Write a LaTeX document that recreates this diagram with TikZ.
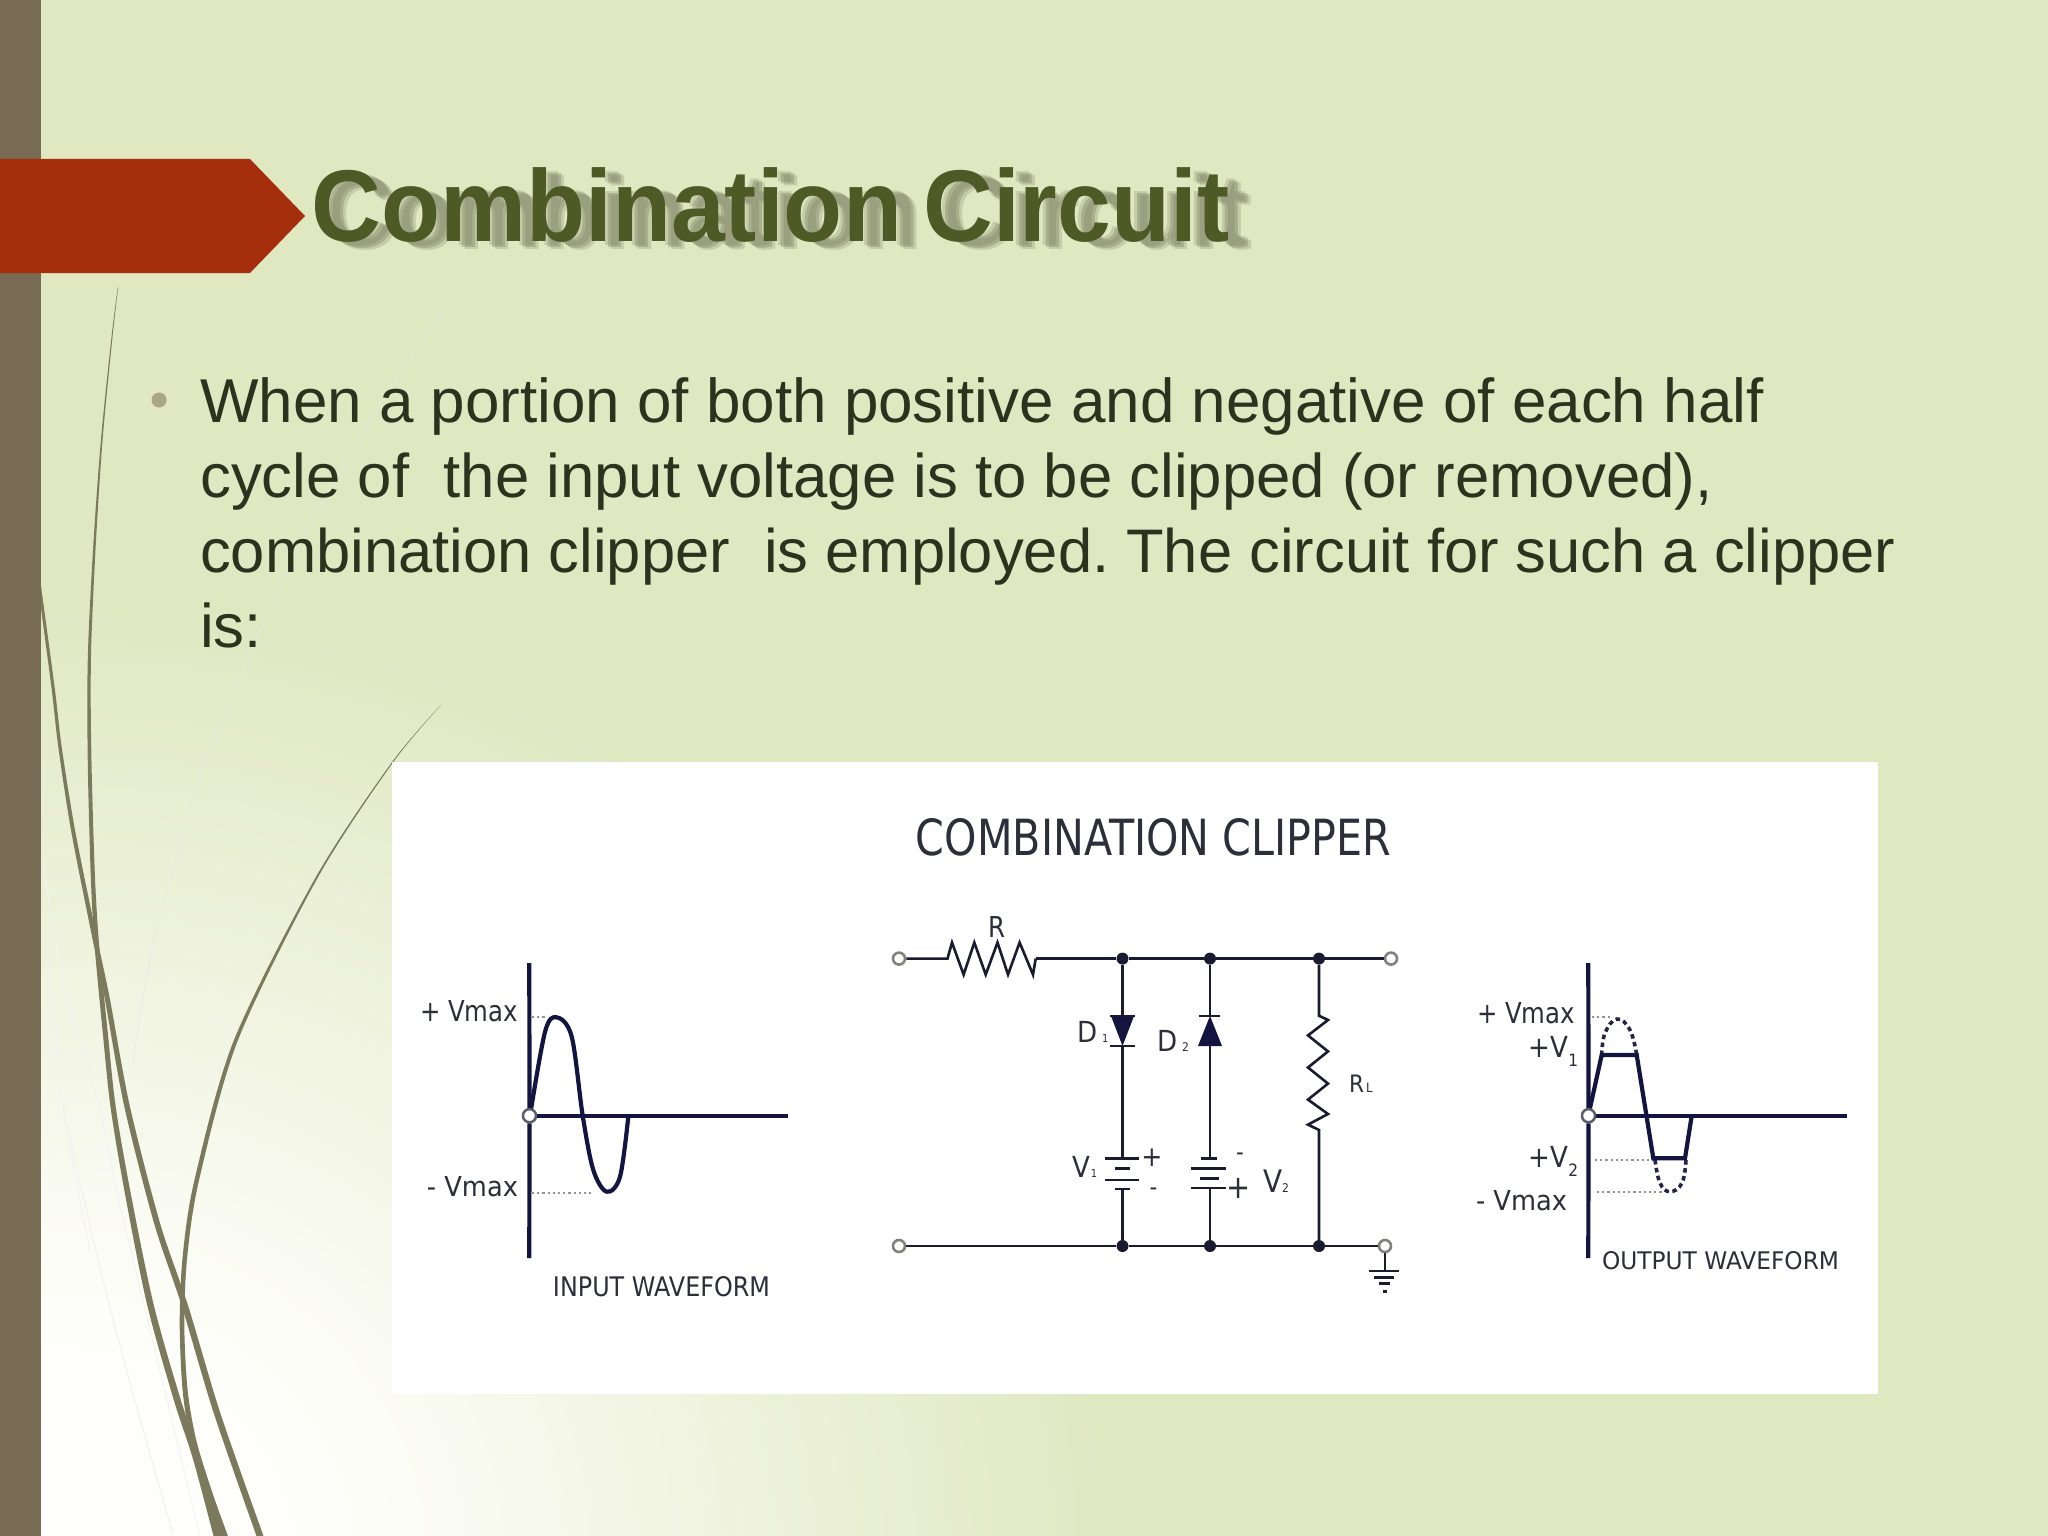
\documentclass[tikz,border=0pt]{standalone}
\usepackage{fontspec}
\usepackage{graphicx}
\usetikzlibrary{calc}
\setmainfont{Liberation Sans}
\newfontfamily\dv[FakeStretch=0.9]{DejaVu Sans}
\definecolor{bgc}{RGB}{224,232,194}
\definecolor{barc}{RGB}{120,107,84}
\definecolor{arrc}{RGB}{165,47,13}
\definecolor{titc}{RGB}{78,90,38}
\definecolor{shc}{RGB}{105,108,80}
\definecolor{bodyc}{RGB}{44,50,30}
\definecolor{bulc}{RGB}{170,166,132}
\definecolor{stemc}{RGB}{124,122,92}
\definecolor{wirec}{RGB}{26,26,48}
\definecolor{wavec}{RGB}{20,20,64}
\definecolor{labc}{RGB}{44,46,58}
\definecolor{termc}{RGB}{130,130,125}
\definecolor{palew}{RGB}{253,253,248}
\pgfdeclareradialshading{bgrad}{\pgfpoint{0bp}{0bp}}{color(0bp)=(white);color(7.5bp)=(palew);color(25bp)=(bgc);color(50bp)=(bgc)}
\tikzset{
  stem/.style={fill=stemc,draw=none},
  faint/.style={draw=#1,line width=1pt},
  wire/.style={draw=wirec,line width=2.6pt},
  bat/.style={draw=wirec,line width=2.6pt},
  wave/.style={draw=wavec,line width=4.2pt,line cap=round,line join=round},
  axisl/.style={draw=wavec,line width=4.2pt},
  dots/.style={draw=gray!85,line width=2.4pt,dash pattern=on 2.2pt off 3pt},
  dashw/.style={draw=wavec!85!gray,line width=3.6pt,dash pattern=on 4.5pt off 3.5pt},
  term/.style={circle,draw=termc,fill=white,line width=2.6pt,minimum size=12pt,inner sep=0pt},
  origin/.style={circle,draw=gray!70!wavec,fill=white,line width=2.4pt,minimum size=13pt,inner sep=0pt},
  junc/.style={circle,fill=wirec,minimum size=12pt,inner sep=0pt},
  lbl/.style={inner sep=0pt,outer sep=0pt,text=labc,font=\dv},
  bodyl/.style={anchor=base west,inner sep=0pt,text=bodyc,font=\fontsize{#1}{#1}\selectfont\frenchspacing},
  titl/.style={anchor=base west,inner sep=0pt,font=\fontsize{102}{102}\selectfont\bfseries},
}
\newcommand{\lab}[6]{\node[lbl] (#1) at ({(#2+#4)/2},{(#3+#5)/2}) {\resizebox{\dimexpr#4pt-#2pt\relax}{\dimexpr#5pt-#3pt\relax}{#6}};}
\newcommand{\titletxt}{Combination\kern-6pt\ Circuit}
\begin{document}
\begin{tikzpicture}[x=1pt,y=-1pt]
\useasboundingbox (0,0) rectangle (2048,1536);
% background
\fill[bgc] (0,0) rectangle (2048,1536);
\begin{scope}
\clip (0,0) rectangle (2048,1536);
\shade[shading=bgrad] (60,1560) ellipse [x radius=1050,y radius=950];
\end{scope}
% faint stems
\draw[faint=black!9,opacity=0.7] plot[smooth] coordinates {(442,313) (397,377) (347,460) (317,513) (280,587) (250,653) (240,680) (203,767) (170,880) (150,957) (133,1063)};
\draw[faint=black!6] plot[smooth] coordinates {(63,1106) (97,1256) (130,1383) (173,1534)};
\draw[faint=black!5] plot[smooth] coordinates {(43,863) (63,980) (87,1063) (100,1110) (120,1206) (150,1330) (200,1536)};
\draw[faint=black!5] plot[smooth] coordinates {(47,947) (63,1107) (90,1250)};
% stems
\fill[stem] plot[smooth] coordinates {(117.8,287) (111.5,337) (101.2,437) (93.8,537) (88.5,637) (87.3,700) (88.1,780) (90.9,880) (94.7,947) (102.5,1030) (110.4,1106) (124.1,1189) (146.7,1303) (173.5,1399) (193,1459) (213.5,1536)}
  -- plot[smooth] coordinates {(226.5,1536) (201,1459) (180.5,1399) (153.3,1303) (129.9,1189) (115.6,1106) (107.5,1030) (99.3,947) (95.1,880) (91.9,780) (90.7,700) (91.5,637) (96.2,537) (102.8,437) (112.5,337) (118.2,287)} -- cycle;
\fill[stem] plot[smooth] coordinates {(36.5,575) (51.4,687) (58.3,747) (71,830) (90.7,930) (104.5,997) (124.2,1106) (154,1223) (181.8,1306) (213.7,1413) (256.5,1536)}
  -- plot[smooth] coordinates {(263.5,1536) (220.3,1413) (188.2,1306) (160,1223) (129.8,1106) (109.5,997) (95.3,930) (75,830) (61.7,747) (54.6,687) (39.5,575)} -- cycle;
\fill[stem] plot[smooth] coordinates {(440.9,705) (391.4,763) (315.9,877) (234,1040) (194.7,1179) (182.7,1256) (179.7,1323) (182.5,1389) (190,1439) (203,1489) (216,1536)}
  -- plot[smooth] coordinates {(228,1536) (211,1489) (196,1439) (187.5,1389) (184.3,1323) (187.3,1256) (199.3,1179) (238,1040) (318.1,877) (392.6,763) (441.1,705)} -- cycle;
% side bar and arrow
\fill[barc] (0,0) rectangle (41,1536);
\fill[arrc] (0,159) -- (250,159) -- (305,216) -- (250,273) -- (0,273) -- cycle;
% title
\foreach \n/\dx/\dy/\op in {a/11/4/0.22,b/14/6/0.3,c/17/8/0.22}{
  \node[titl,text=shc,opacity=\op] (shadow\n) at (311+\dx,241.7+\dy) {\scalebox{0.955}[1]{\titletxt}};
}
\node[titl,text=titc] (title) at (311,241.7) {\scalebox{0.948}[1]{\titletxt}};
% body
\fill[bulc] (159,400) circle [radius=7.5];
\node[bodyl=61.95] (l1) at (200,422) {When a portion of both positive and negative of each half};
\node[bodyl=61.7] (l2) at (200,497) {cycle of\ \ the input voltage is to be clipped (or removed),};
\node[bodyl=61.5] (l3) at (200,572) {combination clipper\ \ is employed. The circuit for such a clipper};
\node[bodyl=61.7] (l4) at (200,647) {is:};
% picture panel
\fill[white] (392,762) rectangle (1878,1394);
\lab{ctitle}{916}{819}{1391}{856}{COMBINATION CLIPPER}
% circuit
\node[term] (t1) at (899,958.6) {};
\node[term] (t2) at (1391,958.6) {};
\node[term] (t3) at (899,1246) {};
\node[term] (t4) at (1385,1246) {};
\node[junc] (ja) at (1122.5,958.6) {};
\node[junc] (jb) at (1210,958.6) {};
\node[junc] (jc) at (1319,958.6) {};
\node[junc] (jd) at (1122.5,1246) {};
\node[junc] (je) at (1210,1246) {};
\node[junc] (jf) at (1319,1246) {};
\coordinate (rs) at (947.5,958.6);
\coordinate (re) at (1035.7,958.6);
\draw[wire] (t1) -- (rs) -- (952,942.5) -- (963.6,974.6) -- (974.3,942.5) -- (985.7,974.6) -- (997.5,942.5) -- (1008,974.6) -- (1019.6,942.5) -- (1033,974.6) -- (re);
\draw[wire] (re) -- (ja) -- (jb) -- (jc) -- (t2);
\draw[wire] (t3) -- (jd) -- (je) -- (jf) -- (t4);
% D1 branch
\coordinate (d1a) at (1122.5,1015.7);
\coordinate (d1k) at (1122.5,1046);
\coordinate (b1a) at (1122.5,1158.6);
\coordinate (b1b) at (1122.5,1189);
\draw[wire] (ja) -- (d1a);
\fill[wavec] (1111,1016) -- (1134,1016) -- (d1k) -- cycle;
\draw[wire] (1110,1016) -- (1135,1016);
\draw[wire] (1110,1046) -- (1135,1046);
\draw[wire] (d1k) -- (b1a);
\draw[bat] (1105,1158.6) -- (1139,1158.6);
\draw[bat] (1115,1168.3) -- (1130,1168.3);
\draw[bat] (1105,1180) -- (1139,1180);
\draw[bat] (1115,1189) -- (1130,1189);
\draw[wire] (b1b) -- (jd);
% D2 branch
\coordinate (d2k) at (1210,1016);
\coordinate (d2a) at (1210,1046);
\coordinate (b2a) at (1210,1158.6);
\coordinate (b2b) at (1210,1188);
\draw[wire] (jb) -- (d2k);
\draw[wire] (1198.5,1016) -- (1220,1016);
\fill[wavec] (d2k) -- (1222,1046) -- (1198,1046) -- cycle;
\draw[wire] (d2a) -- (b2a);
\draw[bat] (1201,1158.6) -- (1217,1158.6);
\draw[bat] (1191,1168.3) -- (1226,1168.3);
\draw[bat] (1200,1178.3) -- (1219,1178.3);
\draw[bat] (1191,1188) -- (1226,1188);
\draw[wire] (b2b) -- (je);
% load resistor
\coordinate (rla) at (1319,1015.7);
\coordinate (rlb) at (1319,1130);
\draw[wire] (jc) -- (rla) -- (1328,1020) -- (1308,1035.4) -- (1328,1051.4) -- (1308,1067.5) -- (1328,1083.6) -- (1308,1099.6) -- (1328,1114) -- (1308,1124.6) -- (rlb) -- (jf);
% ground
\coordinate (gnd) at (1385,1271);
\draw[wire] (t4) -- (gnd);
\draw[bat] (1369,1271) -- (1399,1271);
\draw[bat] (1374,1277.5) -- (1394,1277.5);
\draw[bat] (1379,1283.6) -- (1390,1283.6);
\draw[bat] (1383,1291.5) -- (1387,1291.5);
% circuit labels
\lab{lr}{988}{916}{1005}{937}{R}
\node[lbl,anchor=base west] (ld1) at (1077,1042) {\fontsize{29}{29}\selectfont D\kern5pt{\fontsize{11}{11}\selectfont 1}};
\node[lbl,anchor=base west] (ld2) at (1157,1051) {\fontsize{29}{29}\selectfont D\kern5pt{\fontsize{12}{12}\selectfont 2}};
\node[lbl,anchor=base west] (lrl) at (1349,1092.5) {\fontsize{24}{24}\selectfont R\kern2pt{\fontsize{13}{13}\selectfont L}};
\node[lbl,anchor=base west] (lv1) at (1072,1177) {\fontsize{29}{29}\selectfont V\kern1pt{\fontsize{11}{11}\selectfont 1}};
\node[lbl,anchor=base west] (lv2) at (1263,1192) {\fontsize{31}{31}\selectfont V\kern0pt{\fontsize{12}{12}\selectfont 2}};
\node[lbl] (p1) at (1152,1157.5) {\fontsize{28}{28}\selectfont +};
\node[lbl] (m1) at (1153.6,1191.4) {\fontsize{24}{24}\selectfont -};
\node[lbl] (m2) at (1240,1157) {\fontsize{24}{24}\selectfont -};
\node[lbl] (p2) at (1238.6,1188) {\fontsize{32}{32}\selectfont +};
% input waveform
\node[origin] (o1) at (529.5,1115.7) {};
\coordinate (a1t) at (529.3,963);
\coordinate (a1b) at (529.3,1258);
\coordinate (a1r) at (788,1115.7);
\draw[dots] (532,1016.7) -- (547,1016.7);
\draw[dots] (532,1193) -- (593,1193);
\draw[axisl] (a1t) -- (o1) -- (a1b);
\draw[axisl] (o1) -- (a1r);
\draw[wave] plot[smooth,tension=0.55] coordinates {(530,1115.7) (545,1032) (556.7,1017.3) (571.7,1036.7) (582.7,1115.7) (593.3,1170) (606.7,1191.7) (620,1176.7) (628.3,1116.7)};
\node[origin] (o1b) at (529.5,1115.7) {};
\lab{iv1}{420}{1001}{518}{1022}{+ Vmax}
\lab{iv2}{427}{1177}{518}{1197}{- Vmax}
\lab{iw}{553}{1277}{770}{1297}{INPUT WAVEFORM}
% output waveform
\node[origin] (o2) at (1588.5,1115.7) {};
\coordinate (a2t) at (1588.3,963);
\coordinate (a2b) at (1588.3,1258);
\coordinate (a2r) at (1847,1115.7);
\draw[dots] (1592,1017) -- (1612,1017);
\draw[dots] (1595,1160) -- (1653,1160);
\draw[dots] (1597,1192) -- (1662,1192);
\draw[axisl] (a2t) -- (o2) -- (a2b);
\draw[axisl] (o2) -- (a2r);
\draw[dashw] plot[smooth,tension=0.7] coordinates {(1601.7,1055) (1605,1033) (1617,1019) (1630,1030) (1636.7,1055)};
\draw[dashw] plot[smooth,tension=0.7] coordinates {(1655,1160) (1660,1183) (1670,1191.7) (1682,1183) (1686,1160)};
\draw[wave,line cap=butt,line join=miter] (1588.3,1115.7) -- (1601.7,1055) -- (1636.7,1055) -- (1653.3,1158.3) -- (1685,1158.3) -- (1691.7,1115.7);
\node[origin] (o2b) at (1588.5,1115.7) {};
\lab{ov1}{1477}{1003}{1575}{1024}{+ Vmax}
\node[lbl,anchor=base east] (ov2) at (1578,1057) {\fontsize{29}{29}\selectfont +V\raisebox{-9pt}{\fontsize{17}{17}\selectfont 1}};
\node[lbl,anchor=base east] (ov3) at (1578,1167) {\fontsize{29}{29}\selectfont +V\raisebox{-9pt}{\fontsize{17}{17}\selectfont 2}};
\lab{ov4}{1476}{1191}{1567}{1211}{- Vmax}
\lab{ow}{1602}{1252}{1839}{1270}{OUTPUT WAVEFORM}
\end{tikzpicture}
\end{document}
